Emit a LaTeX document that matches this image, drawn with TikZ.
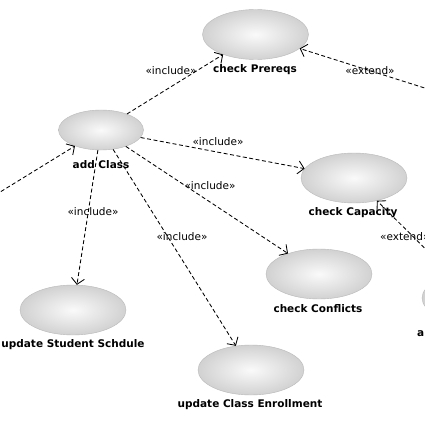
\documentclass[tikz,border=0pt]{standalone}
\usepackage{fontspec}
\setmainfont{DejaVu Sans}
\usetikzlibrary{shapes.geometric,arrows.meta}
\tikzset{
  uc/.style={ellipse, draw=gray!55, line width=0.4pt, minimum width=106pt, minimum height=50pt, inner sep=0pt,
    shading=radial, inner color=white!96!gray, outer color=gray!36},
  ucname/.style={font=\fontsize{10.5}{12}\selectfont\bfseries, inner sep=0pt},
  stereo/.style={font=\fontsize{10.5}{12}\selectfont, inner sep=0pt},
  dep/.style={line width=0.85pt, dash pattern=on 4pt off 2.5pt, -{Straight Barb[length=6pt,width=13pt]}}
}
\begin{document}
\begin{tikzpicture}[x=1pt,y=-1pt]
\useasboundingbox (0,0) rectangle (425,425);
\clip (0,0) rectangle (425,425);
\fill[white] (0,0) rectangle (425,425);
% use cases
\node[uc] (pr) at (255.5,34.5) {};
\node[uc, minimum width=85pt, minimum height=40pt] (ac) at (101,130) {};
\node[uc] (cc) at (354,178) {};
\node[uc] (cf) at (319,274) {};
\node[uc] (us) at (73,310) {};
\node[uc] (ue) at (251,370) {};
\node[uc] (ad) at (475,298) {};
% free ends
\coordinate (actL) at (-60,229);
\coordinate (extR) at (480,105.5);
% names
\node[ucname] (prT) at (255,70) {check Prereqs};
\node[ucname] (acT) at (101,165) {add Class};
\node[ucname] (ccT) at (353,213) {check Capacity};
\node[ucname] (cfT) at (318,309) {check Conflicts};
\node[ucname] (usT) at (73,345) {update Student Schdule};
\node[ucname] (ueT) at (250,405) {update Class Enrollment};
\node[ucname, anchor=west] (adT) at (417,334) {a};
% connectors
\draw[dep] (actL) -- (ac);
\draw[dep] (ac) -- (pr);
\draw[dep] (extR) -- (pr);
\draw[dep] (ac) -- (cc);
\draw[dep] (ac) -- (cf);
\draw[dep] (ac) -- (us);
\draw[dep] (ac) -- (ue);
\draw[dep] (ad) -- (cc);
% stereotypes
\node[stereo] (l1) at (171,71) {«include»};
\node[stereo] (l2) at (370,71) {«extend»};
\node[stereo] (l3) at (218,142) {«include»};
\node[stereo] (l4) at (210,186) {«include»};
\node[stereo] (l5) at (93,212) {«include»};
\node[stereo] (l6) at (182,237) {«include»};
\node[stereo, anchor=west] (l7) at (380,237) {«extend»};
\end{tikzpicture}
\end{document}
